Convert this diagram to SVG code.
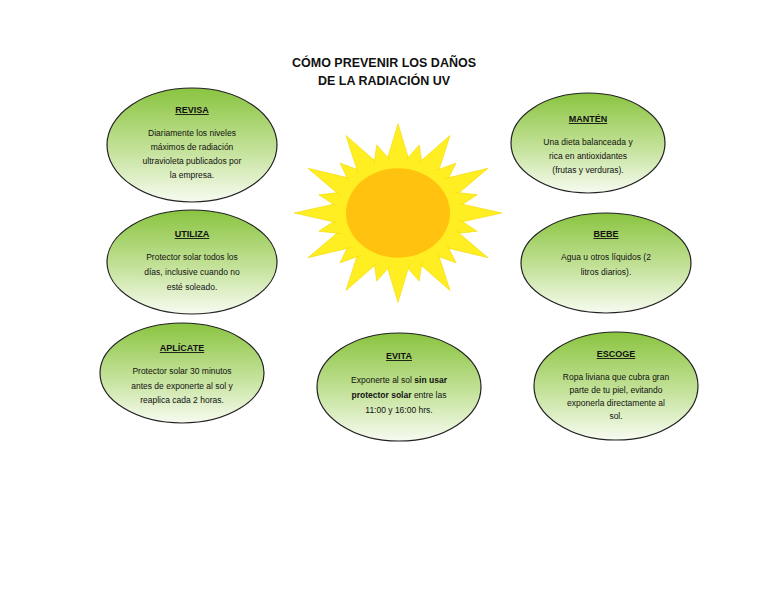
<svg xmlns="http://www.w3.org/2000/svg" xmlns:xlink="http://www.w3.org/1999/xlink" width="768" height="594" viewBox="0 0 768 594">
<defs>
<linearGradient id="g" x1="0" y1="0" x2="0" y2="1">
<stop offset="0" stop-color="#8ac440"/><stop offset="0.55" stop-color="#c4e29a"/><stop offset="1" stop-color="#f7fbf1"/>
</linearGradient>
<polygon id="rl" points="-14,-50 14,-50 0,-104" fill="#ffee22" stroke="#f2d800" stroke-width="0.6"/>
<polygon id="rs" points="-13,-50 13,-50 0,-82" fill="#ffee22" stroke="#f2d800" stroke-width="0.6"/>
</defs>
<style>
.e{fill:url(#g);stroke:#222;stroke-width:1.2}
.h{font-family:"Liberation Sans",Arial,sans-serif;font-size:9px;font-weight:bold;text-decoration:underline;text-anchor:middle;fill:#111}
.t{font-family:"Liberation Sans",Arial,sans-serif;font-size:8.5px;text-anchor:middle;fill:#111}
.ti{font-family:"Liberation Sans",Arial,sans-serif;font-size:12.5px;font-weight:bold;text-anchor:middle;fill:#111}
</style>
<rect width="768" height="594" fill="#fff"/>
<text class="ti" x="384" y="67">CÓMO PREVENIR LOS DAÑOS</text>
<text class="ti" x="384" y="85">DE LA RADIACIÓN UV</text>
<g id="sun" transform="translate(398,213) scale(1,0.86)">
<use xlink:href="#rl" transform="rotate(0)"/><use xlink:href="#rs" transform="rotate(15)"/>
<use xlink:href="#rl" transform="rotate(30)"/><use xlink:href="#rs" transform="rotate(45)"/>
<use xlink:href="#rl" transform="rotate(60)"/><use xlink:href="#rs" transform="rotate(75)"/>
<use xlink:href="#rl" transform="rotate(90)"/><use xlink:href="#rs" transform="rotate(105)"/>
<use xlink:href="#rl" transform="rotate(120)"/><use xlink:href="#rs" transform="rotate(135)"/>
<use xlink:href="#rl" transform="rotate(150)"/><use xlink:href="#rs" transform="rotate(165)"/>
<use xlink:href="#rl" transform="rotate(180)"/><use xlink:href="#rs" transform="rotate(195)"/>
<use xlink:href="#rl" transform="rotate(210)"/><use xlink:href="#rs" transform="rotate(225)"/>
<use xlink:href="#rl" transform="rotate(240)"/><use xlink:href="#rs" transform="rotate(255)"/>
<use xlink:href="#rl" transform="rotate(270)"/><use xlink:href="#rs" transform="rotate(285)"/>
<use xlink:href="#rl" transform="rotate(300)"/><use xlink:href="#rs" transform="rotate(315)"/>
<use xlink:href="#rl" transform="rotate(330)"/><use xlink:href="#rs" transform="rotate(345)"/>
<circle r="62" fill="#ffee22"/>
<ellipse rx="52" ry="52" fill="#ffc20e"/>
</g>
<g id="revisa"><ellipse class="e" cx="192" cy="145" rx="85" ry="57"/>
<text class="h" x="192" y="113">REVISA</text>
<text class="t" x="192" y="136">Diariamente los niveles</text><text class="t" x="192" y="150">máximos de radiación</text><text class="t" x="192" y="164">ultravioleta publicados por</text><text class="t" x="192" y="178">la empresa.</text></g>
<g id="manten"><ellipse class="e" cx="588" cy="143" rx="77" ry="50"/>
<text class="h" x="588" y="122">MANTÉN</text>
<text class="t" x="588" y="145">Una dieta balanceada y</text><text class="t" x="588" y="159">rica en antioxidantes</text><text class="t" x="588" y="173">(frutas y verduras).</text></g>
<g id="utiliza"><ellipse class="e" cx="192" cy="262" rx="85" ry="52"/>
<text class="h" x="192" y="237">UTILIZA</text>
<text class="t" x="192" y="260">Protector solar todos los</text><text class="t" x="192" y="275">días, inclusive cuando no</text><text class="t" x="192" y="290">esté soleado.</text></g>
<g id="bebe"><ellipse class="e" cx="606" cy="263" rx="85" ry="50"/>
<text class="h" x="606" y="237">BEBE</text>
<text class="t" x="606" y="260">Agua u otros líquidos (2</text><text class="t" x="606" y="275">litros diarios).</text></g>
<g id="aplicate"><ellipse class="e" cx="182" cy="373" rx="82" ry="50"/>
<text class="h" x="182" y="351">APLÍCATE</text>
<text class="t" x="182" y="374">Protector solar 30 minutos</text><text class="t" x="182" y="389">antes de exponerte al sol y</text><text class="t" x="182" y="403">reaplica cada 2 horas.</text></g>
<g id="evita"><ellipse class="e" cx="399" cy="387" rx="82" ry="54"/>
<text class="h" x="399" y="359">EVITA</text>
<text class="t" x="399" y="383">Exponerte al sol <tspan font-weight="bold">sin usar</tspan></text><text class="t" x="399" y="398"><tspan font-weight="bold">protector solar</tspan> entre las</text><text class="t" x="399" y="413">11:00 y 16:00 hrs.</text></g>
<g id="escoge"><ellipse class="e" cx="616" cy="386" rx="82" ry="54"/>
<text class="h" x="616" y="357">ESCOGE</text>
<text class="t" x="616" y="380">Ropa liviana que cubra gran</text><text class="t" x="616" y="393">parte de tu piel, evitando</text><text class="t" x="616" y="406">exponerla directamente al</text><text class="t" x="616" y="419">sol.</text></g>
<g id="connectors"/>
</svg>
